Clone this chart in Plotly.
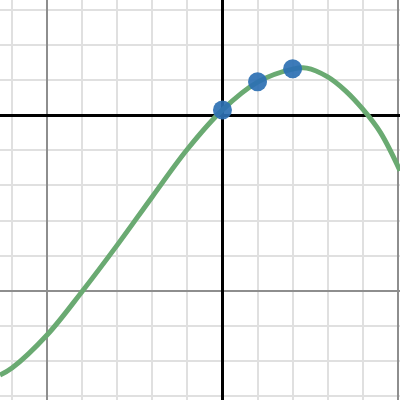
import plotly.graph_objects as go

# Curve samples (grid units: one minor cell = 1)
curve_x = [-6.34, -6.0, -5.0, -4.0, -3.0, -2.0, -1.0, 0.0, 1.0, 2.0, 2.4, 3.0, 3.5, 4.0, 4.5, 5.06]
curve_y = [-7.40, -7.20, -6.26, -5.02, -3.70, -2.32, -0.97, 0.15, 0.94, 1.31, 1.34, 1.09, 0.70, 0.17, -0.49, -1.58]

# Highlighted points
pts_x = [0, 1, 2]
pts_y = [0.15, 0.95, 1.32]

fig = go.Figure()

fig.add_trace(go.Scatter(
    x=curve_x, y=curve_y,
    mode="lines",
    line=dict(color="#6aaa72", width=5, shape="spline", smoothing=1.0),
    hoverinfo="skip",
))

fig.add_trace(go.Scatter(
    x=pts_x, y=pts_y,
    mode="markers",
    marker=dict(color="#2d70b3", size=19, opacity=0.92, line=dict(width=0)),
))

axis_style = dict(
    dtick=5,
    tick0=0,
    showgrid=True,
    gridcolor="#8e8e8e",
    gridwidth=1.5,
    minor=dict(dtick=1, tick0=0, showgrid=True, gridcolor="#e0e0e0", gridwidth=1.5),
    zeroline=True,
    zerolinecolor="#000000",
    zerolinewidth=2.5,
    showticklabels=False,
    ticks="",
    showline=False,
    fixedrange=True,
)

fig.update_layout(
    width=400,
    height=400,
    margin=dict(l=0, r=0, t=0, b=0),
    paper_bgcolor="white",
    plot_bgcolor="white",
    showlegend=False,
    xaxis=dict(range=[-6.34, 5.06], **axis_style),
    yaxis=dict(range=[-8.11, 3.28], **axis_style),
)

# drop the page's default body margin so the plot sits at the window corner
fig.write_html(
    "out.html",
    config={"displayModeBar": False},
    post_script="document.body.style.margin='0';",
)
